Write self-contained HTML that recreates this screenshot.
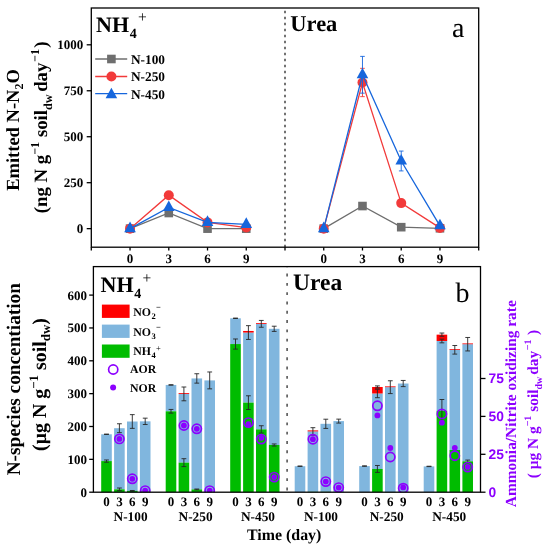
<!DOCTYPE html>
<html><head><meta charset="utf-8"><title>Figure</title><style>
html,body{margin:0;padding:0;background:#fff;}
svg{display:block;filter:blur(0.3px);}
text{font-family:"Liberation Serif", serif;font-weight:bold;fill:#000;text-rendering:geometricPrecision;}
.tk{font-size:13px;}.gl{font-size:13.3px;}
.lg{font-size:13.3px;}
.ti{font-size:22px;}.ti3{font-size:22.5px;}
.ti2{font-size:22px;}.ti4{font-size:23.5px;}
.sub{font-size:14px;}
.sup{font-size:15.5px;font-weight:normal;}
.pl{font-size:28px;font-weight:normal;}
.yt{font-size:18.5px;}.yt4{font-size:18.8px;}
.yt2{font-size:19.3px;}.yt3{font-size:19.9px;}
.s2{font-size:0.65em;}
.s3{font-size:0.72em;}
.lb{font-size:11.8px;}
.rk{font-family:"Liberation Sans", sans-serif;font-size:13.8px;fill:#8c00ff;}
.xt{font-size:15.9px;}
.rt{font-size:15.4px;fill:#8c00ff;}
</style></head>
<body><svg width="550" height="549" viewBox="0 0 550 549">
<rect width="550" height="549" fill="#fff"/>
<line x1="285" y1="8" x2="285" y2="247.2" stroke="#444" stroke-width="1.5" stroke-dasharray="2.5 3.5" stroke-dashoffset="-2.8"/>
<polyline points="130.04,228.65 168.78,213.02 207.52,228.65 246.26,228.65" fill="none" stroke="#6e6e6e" stroke-width="1.3"/>
<polyline points="323.74,228.65 362.48,206.04 401.22,227.18 439.96,228.28" fill="none" stroke="#6e6e6e" stroke-width="1.3"/>
<rect x="125.74" y="224.35" width="8.6" height="8.6" fill="#6e6e6e"/>
<rect x="164.48" y="208.72" width="8.6" height="8.6" fill="#6e6e6e"/>
<rect x="203.22" y="224.35" width="8.6" height="8.6" fill="#6e6e6e"/>
<rect x="241.96" y="224.35" width="8.6" height="8.6" fill="#6e6e6e"/>
<rect x="319.44" y="224.35" width="8.6" height="8.6" fill="#6e6e6e"/>
<rect x="358.18" y="201.74" width="8.6" height="8.6" fill="#6e6e6e"/>
<rect x="396.92" y="222.88" width="8.6" height="8.6" fill="#6e6e6e"/>
<rect x="435.66" y="223.98" width="8.6" height="8.6" fill="#6e6e6e"/>
<polyline points="130.04,228.65 168.78,195.19 207.52,222.4 246.26,227.55" fill="none" stroke="#f23a3a" stroke-width="1.3"/>
<polyline points="323.74,228.65 362.48,82.49 401.22,203.09 439.96,227.91" fill="none" stroke="#f23a3a" stroke-width="1.3"/>
<path d="M362.48 68.33V96.65M360.18 68.33H364.78M360.18 96.65H364.78" stroke="#f23a3a" stroke-width="0.9" fill="none"/>
<circle cx="130.04" cy="228.65" r="5" fill="#f23a3a"/>
<circle cx="168.78" cy="195.19" r="5" fill="#f23a3a"/>
<circle cx="207.52" cy="222.4" r="5" fill="#f23a3a"/>
<circle cx="246.26" cy="227.55" r="5" fill="#f23a3a"/>
<circle cx="323.74" cy="228.65" r="5" fill="#f23a3a"/>
<circle cx="362.48" cy="82.49" r="5" fill="#f23a3a"/>
<circle cx="401.22" cy="203.09" r="5" fill="#f23a3a"/>
<circle cx="439.96" cy="227.91" r="5" fill="#f23a3a"/>
<polyline points="130.04,228.65 168.78,207.51 207.52,222.4 246.26,224.42" fill="none" stroke="#1666dc" stroke-width="1.3"/>
<polyline points="323.74,228.65 362.48,74.77 401.22,160.99 439.96,225.8" fill="none" stroke="#1666dc" stroke-width="1.3"/>
<path d="M362.48 56.38V93.15M360.18 56.38H364.78M360.18 93.15H364.78" stroke="#1666dc" stroke-width="0.9" fill="none"/>
<path d="M401.22 151.07V170.92M398.92 151.07H403.52M398.92 170.92H403.52" stroke="#1666dc" stroke-width="0.9" fill="none"/>
<polygon points="130.04,221.58 124.24,232.18 135.84,232.18" fill="#1666dc"/>
<polygon points="168.78,200.44 162.98,211.04 174.58,211.04" fill="#1666dc"/>
<polygon points="207.52,215.33 201.72,225.93 213.32,225.93" fill="#1666dc"/>
<polygon points="246.26,217.35 240.46,227.95 252.06,227.95" fill="#1666dc"/>
<polygon points="323.74,221.58 317.94,232.18 329.54,232.18" fill="#1666dc"/>
<polygon points="362.48,67.7 356.68,78.3 368.28,78.3" fill="#1666dc"/>
<polygon points="401.22,153.93 395.42,164.53 407.02,164.53" fill="#1666dc"/>
<polygon points="439.96,218.73 434.16,229.33 445.76,229.33" fill="#1666dc"/>
<rect x="91.3" y="8" width="387.4" height="239.2" fill="none" stroke="#000" stroke-width="1.3"/>
<line x1="91.3" y1="247.2" x2="91.3" y2="250.5" stroke="#000" stroke-width="1.3"/>
<line x1="130.04" y1="247.2" x2="130.04" y2="250.5" stroke="#000" stroke-width="1.3"/>
<line x1="168.78" y1="247.2" x2="168.78" y2="250.5" stroke="#000" stroke-width="1.3"/>
<line x1="207.52" y1="247.2" x2="207.52" y2="250.5" stroke="#000" stroke-width="1.3"/>
<line x1="246.26" y1="247.2" x2="246.26" y2="250.5" stroke="#000" stroke-width="1.3"/>
<line x1="285" y1="247.2" x2="285" y2="250.5" stroke="#000" stroke-width="1.3"/>
<line x1="323.74" y1="247.2" x2="323.74" y2="250.5" stroke="#000" stroke-width="1.3"/>
<line x1="362.48" y1="247.2" x2="362.48" y2="250.5" stroke="#000" stroke-width="1.3"/>
<line x1="401.22" y1="247.2" x2="401.22" y2="250.5" stroke="#000" stroke-width="1.3"/>
<line x1="439.96" y1="247.2" x2="439.96" y2="250.5" stroke="#000" stroke-width="1.3"/>
<line x1="478.7" y1="247.2" x2="478.7" y2="250.5" stroke="#000" stroke-width="1.3"/>
<line x1="86.7" y1="228.65" x2="91.3" y2="228.65" stroke="#000" stroke-width="1.3"/>
<text x="83.2" y="233.05" text-anchor="end" class="tk">0</text>
<line x1="86.7" y1="182.69" x2="91.3" y2="182.69" stroke="#000" stroke-width="1.3"/>
<text x="83.2" y="187.09" text-anchor="end" class="tk">250</text>
<line x1="86.7" y1="136.72" x2="91.3" y2="136.72" stroke="#000" stroke-width="1.3"/>
<text x="83.2" y="141.12" text-anchor="end" class="tk">500</text>
<line x1="86.7" y1="90.76" x2="91.3" y2="90.76" stroke="#000" stroke-width="1.3"/>
<text x="83.2" y="95.16" text-anchor="end" class="tk">750</text>
<line x1="86.7" y1="44.8" x2="91.3" y2="44.8" stroke="#000" stroke-width="1.3"/>
<text x="83.2" y="49.2" text-anchor="end" class="tk">1000</text>
<text x="130.04" y="263.2" text-anchor="middle" class="tk">0</text>
<text x="168.78" y="263.2" text-anchor="middle" class="tk">3</text>
<text x="207.52" y="263.2" text-anchor="middle" class="tk">6</text>
<text x="246.26" y="263.2" text-anchor="middle" class="tk">9</text>
<text x="323.74" y="263.2" text-anchor="middle" class="tk">0</text>
<text x="362.48" y="263.2" text-anchor="middle" class="tk">3</text>
<text x="401.22" y="263.2" text-anchor="middle" class="tk">6</text>
<text x="439.96" y="263.2" text-anchor="middle" class="tk">9</text>
<line x1="95.2" y1="59" x2="127.2" y2="59" stroke="#6e6e6e" stroke-width="1.3"/>
<rect x="107.1" y="54.7" width="8.6" height="8.6" fill="#6e6e6e"/>
<text x="131" y="63.5" class="lg">N-100</text>
<line x1="95.2" y1="76.5" x2="127.2" y2="76.5" stroke="#f23a3a" stroke-width="1.3"/>
<circle cx="111.4" cy="76.5" r="5" fill="#f23a3a"/>
<text x="131" y="81" class="lg">N-250</text>
<line x1="95.2" y1="93.6" x2="127.2" y2="93.6" stroke="#1666dc" stroke-width="1.3"/>
<polygon points="111.4,87.73 105.6,98.33 117.2,98.33" fill="#1666dc"/>
<text x="131" y="98.5" class="lg">N-450</text>
<text x="96" y="32" class="ti">NH<tspan class="sub" dx="0.8" dy="6">4</tspan><tspan class="sup" dx="1.2" dy="-16.5">+</tspan></text>
<text x="290.3" y="31.3" class="ti3">Urea</text>
<text x="452" y="37" class="pl">a</text>
<text transform="translate(18.6,130) rotate(-90)" text-anchor="middle" class="yt">Emitted N-N<tspan class="s2" dy="4">2</tspan><tspan dy="-4">O</tspan></text>
<text transform="translate(47,127.4) rotate(-90)" text-anchor="middle" class="yt4">(ng N g<tspan class="s2" dy="-7.8">&#8722;1</tspan><tspan dy="7.8"> soil</tspan><tspan class="s2" dy="4.6">dw</tspan><tspan dy="-4.6" dx="-2.2"> day</tspan><tspan class="s2" dy="-7.8" dx="0.6">&#8722;1</tspan><tspan dy="7.8" dx="1.2">)</tspan></text>
<line x1="287.1" y1="266.6" x2="287.1" y2="492.2" stroke="#4a4a4a" stroke-width="1.5" stroke-dasharray="2.9 6.4" stroke-dashoffset="-7"/>
<rect x="101.2" y="434.29" width="10.6" height="26.81" fill="#80b6de"/>
<rect x="101.2" y="461.09" width="10.6" height="31.11" fill="#00bc00"/>
<rect x="114.1" y="428.21" width="10.6" height="61.1" fill="#80b6de"/>
<rect x="114.1" y="489.31" width="10.6" height="2.89" fill="#00bc00"/>
<rect x="127" y="421.51" width="10.6" height="69.38" fill="#80b6de"/>
<rect x="127" y="490.89" width="10.6" height="1.31" fill="#00bc00"/>
<rect x="139.9" y="421.34" width="10.6" height="70.2" fill="#80b6de"/>
<rect x="139.9" y="491.54" width="10.6" height="0.66" fill="#00bc00"/>
<rect x="165.7" y="384.94" width="10.6" height="26.35" fill="#80b6de"/>
<rect x="165.7" y="411.29" width="10.6" height="80.91" fill="#00bc00"/>
<rect x="178.6" y="393.91" width="10.6" height="68.72" fill="#80b6de"/>
<rect x="178.6" y="462.63" width="10.6" height="29.56" fill="#00bc00"/>
<rect x="178.6" y="393.06" width="10.6" height="0.85" fill="#ff0000"/>
<rect x="191.5" y="378.44" width="10.6" height="110.97" fill="#80b6de"/>
<rect x="191.5" y="489.41" width="10.6" height="2.79" fill="#00bc00"/>
<rect x="204.4" y="380.41" width="10.6" height="111.79" fill="#80b6de"/>
<rect x="230.2" y="318.29" width="10.6" height="25.75" fill="#80b6de"/>
<rect x="230.2" y="344.05" width="10.6" height="148.15" fill="#00bc00"/>
<rect x="243.1" y="332.55" width="10.6" height="70.1" fill="#80b6de"/>
<rect x="243.1" y="402.65" width="10.6" height="89.55" fill="#00bc00"/>
<rect x="243.1" y="330.97" width="10.6" height="1.58" fill="#ff0000"/>
<rect x="256" y="323.84" width="10.6" height="105.51" fill="#80b6de"/>
<rect x="256" y="429.36" width="10.6" height="62.84" fill="#00bc00"/>
<rect x="256" y="323.02" width="10.6" height="0.82" fill="#ff0000"/>
<rect x="268.9" y="328.8" width="10.6" height="116.19" fill="#80b6de"/>
<rect x="268.9" y="444.99" width="10.6" height="47.21" fill="#00bc00"/>
<rect x="294.7" y="466.22" width="10.6" height="25.98" fill="#80b6de"/>
<rect x="307.6" y="431.39" width="10.6" height="60.48" fill="#80b6de"/>
<rect x="307.6" y="491.87" width="10.6" height="0.33" fill="#00bc00"/>
<rect x="307.6" y="430.38" width="10.6" height="1.02" fill="#ff0000"/>
<rect x="320.5" y="423.81" width="10.6" height="68.07" fill="#80b6de"/>
<rect x="320.5" y="491.87" width="10.6" height="0.33" fill="#00bc00"/>
<rect x="333.4" y="421.11" width="10.6" height="71.09" fill="#80b6de"/>
<rect x="359.2" y="466.08" width="10.6" height="26.12" fill="#80b6de"/>
<rect x="372.1" y="393.49" width="10.6" height="75.46" fill="#80b6de"/>
<rect x="372.1" y="468.94" width="10.6" height="23.26" fill="#00bc00"/>
<rect x="372.1" y="386.98" width="10.6" height="6.5" fill="#ff0000"/>
<rect x="385" y="387.18" width="10.6" height="104.86" fill="#80b6de"/>
<rect x="385" y="492.04" width="10.6" height="0.16" fill="#00bc00"/>
<rect x="385" y="386.36" width="10.6" height="0.82" fill="#ff0000"/>
<rect x="397.9" y="383.53" width="10.6" height="108.67" fill="#80b6de"/>
<rect x="423.7" y="466.41" width="10.6" height="25.79" fill="#80b6de"/>
<rect x="436.6" y="340.99" width="10.6" height="69.81" fill="#80b6de"/>
<rect x="436.6" y="410.8" width="10.6" height="81.4" fill="#00bc00"/>
<rect x="436.6" y="334.65" width="10.6" height="6.34" fill="#ff0000"/>
<rect x="449.5" y="349.8" width="10.6" height="100.19" fill="#80b6de"/>
<rect x="449.5" y="449.99" width="10.6" height="42.21" fill="#00bc00"/>
<rect x="449.5" y="349.01" width="10.6" height="0.79" fill="#ff0000"/>
<rect x="462.4" y="344.21" width="10.6" height="117.11" fill="#80b6de"/>
<rect x="462.4" y="461.32" width="10.6" height="30.88" fill="#00bc00"/>
<rect x="462.4" y="343.42" width="10.6" height="0.79" fill="#ff0000"/>
<g stroke="#262626" stroke-width="0.9" fill="none"><path d="M106.5 434.09V434.48M104.1 434.09H108.9M104.1 434.48H108.9"/><path d="M106.5 459.97V462.21M104.1 459.97H108.9M104.1 462.21H108.9"/><path d="M119.4 423.77V432.64M117 423.77H121.8M117 432.64H121.8"/><path d="M119.4 488V490.62M117 488H121.8M117 490.62H121.8"/><path d="M132.3 414.64V428.37M129.9 414.64H134.7M129.9 428.37H134.7"/><path d="M132.3 490.49V491.28M129.9 490.49H134.7M129.9 491.28H134.7"/><path d="M145.2 418.16V424.53M142.8 418.16H147.6M142.8 424.53H147.6"/><path d="M171 384.75V385.14M168.6 384.75H173.4M168.6 385.14H173.4"/><path d="M171 409.45V413.13M168.6 409.45H173.4M168.6 413.13H173.4"/><path d="M183.9 387.01V400.81M181.5 387.01H186.3M181.5 400.81H186.3"/><path d="M183.9 458.69V466.58M181.5 458.69H186.3M181.5 466.58H186.3"/><path d="M196.8 373.74V383.14M194.4 373.74H199.2M194.4 383.14H199.2"/><path d="M196.8 489.01V489.8M194.4 489.01H199.2M194.4 489.8H199.2"/><path d="M209.7 371.97V388.85M207.3 371.97H212.1M207.3 388.85H212.1"/><path d="M235.5 318.09V318.49M233.1 318.09H237.9M233.1 318.49H237.9"/><path d="M235.5 338.99V349.11M233.1 338.99H237.9M233.1 349.11H237.9"/><path d="M248.4 325.65V339.45M246 325.65H250.8M246 339.45H250.8"/><path d="M248.4 395.79V409.52M246 395.79H250.8M246 409.52H250.8"/><path d="M261.3 320.43V327.26M258.9 320.43H263.7M258.9 327.26H263.7"/><path d="M261.3 425.74V432.97M258.9 425.74H263.7M258.9 432.97H263.7"/><path d="M274.2 326.21V331.4M271.8 326.21H276.6M271.8 331.4H276.6"/><path d="M274.2 443.94V446.05M271.8 443.94H276.6M271.8 446.05H276.6"/><path d="M300 466.02V466.41M297.6 466.02H302.4M297.6 466.41H302.4"/><path d="M312.9 427.68V435.11M310.5 427.68H315.3M310.5 435.11H315.3"/><path d="M325.8 419.21V428.41M323.4 419.21H328.2M323.4 428.41H328.2"/><path d="M338.7 419.14V423.08M336.3 419.14H341.1M336.3 423.08H341.1"/><path d="M364.5 465.89V466.28M362.1 465.89H366.9M362.1 466.28H366.9"/><path d="M377.4 385.9V388.07M375 385.9H379.8M375 388.07H379.8"/><path d="M377.4 389.28V397.69M375 389.28H379.8M375 397.69H379.8"/><path d="M377.4 465.49V472.39M375 465.49H379.8M375 472.39H379.8"/><path d="M390.3 380.77V393.58M387.9 380.77H392.7M387.9 393.58H392.7"/><path d="M403.2 380.44V386.62M400.8 380.44H405.6M400.8 386.62H405.6"/><path d="M429 466.22V466.61M426.6 466.22H431.4M426.6 466.61H431.4"/><path d="M441.9 333.04V336.26M439.5 333.04H444.3M439.5 336.26H444.3"/><path d="M441.9 339.15V342.83M439.5 339.15H444.3M439.5 342.83H444.3"/><path d="M441.9 399.5V422.1M439.5 399.5H444.3M439.5 422.1H444.3"/><path d="M454.8 345.49V354.1M452.4 345.49H457.2M452.4 354.1H457.2"/><path d="M467.7 337.48V350.94M465.3 337.48H470.1M465.3 350.94H470.1"/><path d="M467.7 460.07V462.57M465.3 460.07H470.1M465.3 462.57H470.1"/></g>
<defs><clipPath id="bc"><rect x="93.4" y="266.6" width="387.1" height="225.6"/></clipPath></defs>
<g clip-path="url(#bc)"><circle cx="119.4" cy="438.9" r="2.9" fill="#8c00ff"/><circle cx="119.4" cy="438.9" r="4.6" fill="none" stroke="#8c00ff" stroke-width="1.7"/><circle cx="132.3" cy="478.8" r="2.9" fill="#8c00ff"/><circle cx="132.3" cy="478.8" r="4.6" fill="none" stroke="#8c00ff" stroke-width="1.7"/><circle cx="145.2" cy="490.6" r="2.9" fill="#8c00ff"/><circle cx="145.2" cy="490.6" r="4.6" fill="none" stroke="#8c00ff" stroke-width="1.7"/><circle cx="183.9" cy="425.5" r="2.9" fill="#8c00ff"/><circle cx="183.9" cy="425.5" r="4.6" fill="none" stroke="#8c00ff" stroke-width="1.7"/><circle cx="196.8" cy="428.8" r="2.9" fill="#8c00ff"/><circle cx="196.8" cy="428.8" r="4.6" fill="none" stroke="#8c00ff" stroke-width="1.7"/><circle cx="209.7" cy="490.6" r="2.9" fill="#8c00ff"/><circle cx="209.7" cy="490.6" r="4.6" fill="none" stroke="#8c00ff" stroke-width="1.7"/><circle cx="248.4" cy="424.2" r="2.9" fill="#8c00ff"/><circle cx="248.4" cy="422.6" r="4.6" fill="none" stroke="#8c00ff" stroke-width="1.7"/><circle cx="261.3" cy="437.8" r="2.9" fill="#8c00ff"/><circle cx="261.3" cy="439.1" r="4.6" fill="none" stroke="#8c00ff" stroke-width="1.7"/><circle cx="274.2" cy="477.1" r="2.9" fill="#8c00ff"/><circle cx="274.2" cy="477.1" r="4.6" fill="none" stroke="#8c00ff" stroke-width="1.7"/><circle cx="312.9" cy="439.2" r="2.9" fill="#8c00ff"/><circle cx="312.9" cy="439.2" r="4.6" fill="none" stroke="#8c00ff" stroke-width="1.7"/><circle cx="325.8" cy="481.6" r="2.9" fill="#8c00ff"/><circle cx="325.8" cy="481.6" r="4.6" fill="none" stroke="#8c00ff" stroke-width="1.7"/><circle cx="338.7" cy="487.6" r="2.9" fill="#8c00ff"/><circle cx="338.7" cy="487.6" r="4.6" fill="none" stroke="#8c00ff" stroke-width="1.7"/><circle cx="377.4" cy="415.4" r="2.9" fill="#8c00ff"/><circle cx="377.4" cy="405.8" r="4.6" fill="none" stroke="#8c00ff" stroke-width="1.7"/><circle cx="390.3" cy="448" r="2.9" fill="#8c00ff"/><circle cx="390.3" cy="457" r="4.6" fill="none" stroke="#8c00ff" stroke-width="1.7"/><circle cx="403.2" cy="487.4" r="2.9" fill="#8c00ff"/><circle cx="403.2" cy="488.2" r="4.6" fill="none" stroke="#8c00ff" stroke-width="1.7"/><circle cx="441.9" cy="422.7" r="2.9" fill="#8c00ff"/><circle cx="441.9" cy="413.9" r="4.6" fill="none" stroke="#8c00ff" stroke-width="1.7"/><circle cx="454.8" cy="447.8" r="2.9" fill="#8c00ff"/><circle cx="454.8" cy="455.7" r="4.6" fill="none" stroke="#8c00ff" stroke-width="1.7"/><circle cx="467.7" cy="466.9" r="2.9" fill="#8c00ff"/><circle cx="467.7" cy="467.1" r="4.6" fill="none" stroke="#8c00ff" stroke-width="1.7"/></g>
<rect x="93.4" y="266.6" width="387.1" height="225.6" fill="none" stroke="#000" stroke-width="1.3"/>
<line x1="89.2" y1="492.2" x2="93.4" y2="492.2" stroke="#000" stroke-width="1.3"/>
<text x="87" y="496.6" text-anchor="end" class="tk">0</text>
<line x1="89.2" y1="459.35" x2="93.4" y2="459.35" stroke="#000" stroke-width="1.3"/>
<text x="87" y="463.75" text-anchor="end" class="tk">100</text>
<line x1="89.2" y1="426.5" x2="93.4" y2="426.5" stroke="#000" stroke-width="1.3"/>
<text x="87" y="430.9" text-anchor="end" class="tk">200</text>
<line x1="89.2" y1="393.65" x2="93.4" y2="393.65" stroke="#000" stroke-width="1.3"/>
<text x="87" y="398.05" text-anchor="end" class="tk">300</text>
<line x1="89.2" y1="360.8" x2="93.4" y2="360.8" stroke="#000" stroke-width="1.3"/>
<text x="87" y="365.2" text-anchor="end" class="tk">400</text>
<line x1="89.2" y1="327.95" x2="93.4" y2="327.95" stroke="#000" stroke-width="1.3"/>
<text x="87" y="332.35" text-anchor="end" class="tk">500</text>
<line x1="89.2" y1="295.1" x2="93.4" y2="295.1" stroke="#000" stroke-width="1.3"/>
<text x="87" y="299.5" text-anchor="end" class="tk">600</text>
<line x1="480.5" y1="492.2" x2="485.5" y2="492.2" stroke="#000" stroke-width="1.3"/>
<text x="488.6" y="496.9" class="rk">0</text>
<line x1="480.5" y1="454.3" x2="485.5" y2="454.3" stroke="#000" stroke-width="1.3"/>
<text x="488.6" y="459" class="rk">25</text>
<line x1="480.5" y1="416.4" x2="485.5" y2="416.4" stroke="#000" stroke-width="1.3"/>
<text x="488.6" y="421.1" class="rk">50</text>
<line x1="480.5" y1="378.5" x2="485.5" y2="378.5" stroke="#000" stroke-width="1.3"/>
<text x="488.6" y="383.2" class="rk">75</text>
<text x="106.5" y="505.6" text-anchor="middle" class="tk">0</text>
<text x="119.4" y="505.6" text-anchor="middle" class="tk">3</text>
<text x="132.3" y="505.6" text-anchor="middle" class="tk">6</text>
<text x="145.2" y="505.6" text-anchor="middle" class="tk">9</text>
<text x="171" y="505.6" text-anchor="middle" class="tk">0</text>
<text x="183.9" y="505.6" text-anchor="middle" class="tk">3</text>
<text x="196.8" y="505.6" text-anchor="middle" class="tk">6</text>
<text x="209.7" y="505.6" text-anchor="middle" class="tk">9</text>
<text x="235.5" y="505.6" text-anchor="middle" class="tk">0</text>
<text x="248.4" y="505.6" text-anchor="middle" class="tk">3</text>
<text x="261.3" y="505.6" text-anchor="middle" class="tk">6</text>
<text x="274.2" y="505.6" text-anchor="middle" class="tk">9</text>
<text x="300" y="505.6" text-anchor="middle" class="tk">0</text>
<text x="312.9" y="505.6" text-anchor="middle" class="tk">3</text>
<text x="325.8" y="505.6" text-anchor="middle" class="tk">6</text>
<text x="338.7" y="505.6" text-anchor="middle" class="tk">9</text>
<text x="364.5" y="505.6" text-anchor="middle" class="tk">0</text>
<text x="377.4" y="505.6" text-anchor="middle" class="tk">3</text>
<text x="390.3" y="505.6" text-anchor="middle" class="tk">6</text>
<text x="403.2" y="505.6" text-anchor="middle" class="tk">9</text>
<text x="429" y="505.6" text-anchor="middle" class="tk">0</text>
<text x="441.9" y="505.6" text-anchor="middle" class="tk">3</text>
<text x="454.8" y="505.6" text-anchor="middle" class="tk">6</text>
<text x="467.7" y="505.6" text-anchor="middle" class="tk">9</text>
<text x="130.6" y="520.6" text-anchor="middle" class="gl">N-100</text>
<text x="195.6" y="520.6" text-anchor="middle" class="gl">N-250</text>
<text x="258" y="520.6" text-anchor="middle" class="gl">N-450</text>
<text x="321" y="520.6" text-anchor="middle" class="gl">N-100</text>
<text x="386.7" y="520.6" text-anchor="middle" class="gl">N-250</text>
<text x="449.2" y="520.6" text-anchor="middle" class="gl">N-450</text>
<text x="284.2" y="540" text-anchor="middle" class="xt">Time (day)</text>
<rect x="101.9" y="304.6" width="27.7" height="13.3" fill="#ff0000"/>
<rect x="101.9" y="324.6" width="27.7" height="13.3" fill="#80b6de"/>
<rect x="101.9" y="344.5" width="27.7" height="13.3" fill="#00bc00"/>
<text x="133.2" y="315.5" class="lb">NO<tspan class="s3" dx="0.6" dy="3.6">2</tspan><tspan class="s3" dy="-9.5" dx="0.3">&#8722;</tspan></text>
<text x="133.2" y="335.5" class="lb">NO<tspan class="s3" dx="0.6" dy="3.6">3</tspan><tspan class="s3" dy="-9.5" dx="0.3">&#8722;</tspan></text>
<text x="133.2" y="354.7" class="lb">NH<tspan class="s3" dx="0.6" dy="3.6">4</tspan><tspan class="s3" dy="-7.8" dx="0.3" style="font-weight:normal">+</tspan></text>
<circle cx="113.2" cy="369.5" r="4.6" fill="none" stroke="#8c00ff" stroke-width="1.7"/>
<circle cx="113.1" cy="387.5" r="3" fill="#8c00ff"/>
<text x="130" y="372.9" class="lb">AOR</text>
<text x="130" y="391.5" class="lb">NOR</text>
<text x="100.5" y="291.9" class="ti2">NH<tspan class="sub" dx="0.8" dy="6.5">4</tspan><tspan class="sup" dx="1.2" dy="-15.5">+</tspan></text>
<text x="293" y="289.7" class="ti4">Urea</text>
<text x="455.5" y="302" class="pl">b</text>
<text transform="translate(19.7,379.2) rotate(-90)" text-anchor="middle" class="yt2">N-species concentiation</text>
<text transform="translate(45.5,384.5) rotate(-90)" text-anchor="middle" class="yt3">(&#956;g N g<tspan class="s2" dy="-7.5">&#8722;1</tspan><tspan dy="7.5"> soil</tspan><tspan class="s2" dy="4.5">dw</tspan><tspan dy="-4.5">)</tspan></text>
<text transform="translate(516.3,403.7) rotate(-90)" text-anchor="middle" class="rt">Ammonia/Nitrite oxidizing rate</text>
<text transform="translate(537.6,404) rotate(-90)" text-anchor="middle" class="rt">(&#160;&#956;g N g<tspan class="s2" dy="-6.5">&#8722;1</tspan><tspan dy="6.5"> soil</tspan><tspan class="s2" dy="4">dw</tspan><tspan dy="-4" dx="-1.8"> day</tspan><tspan class="s2" dy="-6.5" dx="0.5">&#8722;1</tspan><tspan dy="6.5" dx="0.8">&#160;)</tspan></text>
</svg></body></html>
